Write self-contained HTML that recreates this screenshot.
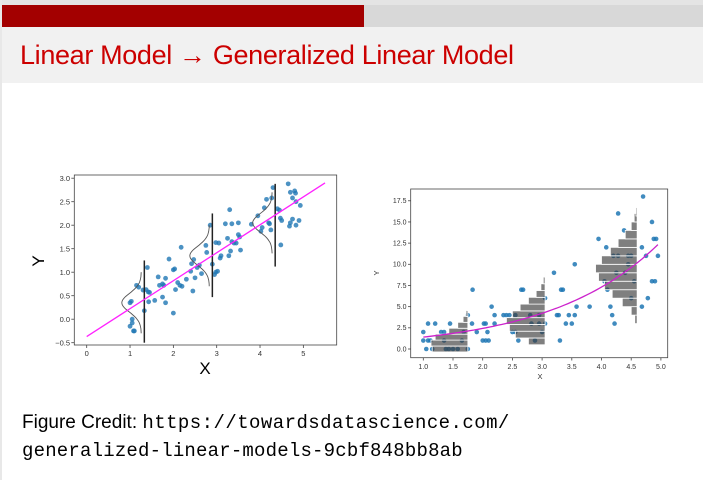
<!DOCTYPE html>
<html><head><meta charset="utf-8">
<style>
body{margin:0;width:703px;height:480px;overflow:hidden;background:#fff;font-family:"Liberation Sans",sans-serif;position:relative}
#topbar{position:absolute;left:0;top:0;width:703px;height:5px;background:#e4e4e4}
#redbar{position:absolute;left:2px;top:5px;width:362px;height:22px;background:#a30000}
#graybar{position:absolute;left:364px;top:5px;width:339px;height:22px;background:#d8d8d8}
#titleband{position:absolute;left:2px;top:27px;width:701px;height:56px;background:#f1f1f1}
#title{position:absolute;left:20px;top:40px;font-size:27px;color:#cc0000;white-space:nowrap;letter-spacing:-0.35px}
#leftedge{position:absolute;left:0;top:0;width:2px;height:480px;background:#e8e8e8}
#credit1{position:absolute;left:22px;top:412px;font-size:19px;white-space:nowrap;color:#000}
#credit1 .mono{letter-spacing:0.45px}
#credit2{position:absolute;left:22px;top:440px;font-size:19px;white-space:nowrap;color:#000;letter-spacing:0.2px}
.mono{font-family:"Liberation Mono",monospace}
svg{position:absolute;left:0;top:0}
</style></head><body>
<div id="topbar"></div>
<div id="leftedge"></div>
<div id="redbar"></div>
<div id="graybar"></div>
<div id="titleband"></div>
<div id="title">Linear Model → Generalized Linear Model</div>
<svg id="chart" width="703" height="480"></svg>
<div id="credit1">Figure Credit: <span class="mono">https://towardsdatascience.com/</span></div>
<div id="credit2" class="mono">generalized-linear-models-9cbf848bb8ab</div>
<script>
// Left chart data
const leftX=[1.0,1.1,1.08,1.05,1.05,1.0,1.03,1.15,1.2,1.3,1.37,1.4,1.42,1.45,1.43,1.33,1.57,1.65,1.68,1.75,1.78,1.75,1.82,1.82,1.9,2.0,2.03,2.0,2.05,2.1,2.15,2.2,2.18,2.3,2.4,2.42,2.45,2.47,2.5,2.55,2.6,2.65,2.75,2.77,2.85,2.9,2.95,2.98,3.02,2.98,3.05,3.08,3.1,3.2,3.25,3.28,3.3,3.32,3.35,3.35,3.4,3.45,3.5,3.5,3.53,3.55,3.8,3.95,4.02,4.05,4.1,4.15,4.2,4.22,4.25,4.27,4.3,4.4,4.45,4.47,4.5,4.48,4.65,4.7,4.68,4.7,4.75,4.75,4.8,4.82,4.83,4.83,4.9,4.93];
const leftY=[-0.15,-0.25,-0.25,0,-0.08,0.35,0.38,0.72,0.68,0.62,0.63,1.1,0.58,0.57,0.37,0.18,0.4,0.9,0.72,0.75,0.72,0.47,0.35,0.87,1.28,1.05,1.07,0.13,0.63,0.78,0.72,0.7,1.53,0.85,1.02,1.18,0.6,1.27,0.88,1.1,1.15,0.97,1.57,1.42,2.0,1.17,0.95,1.0,1.02,1.63,1.62,1.3,1.35,2.03,1.72,1.35,2.33,1.45,1.65,2.03,1.62,1.62,1.8,2.05,1.75,1.47,2.02,2.2,1.87,1.95,2.37,2.55,2.05,2.03,1.9,2.58,2.8,2.35,2.32,2.15,2.1,1.58,2.88,2.7,1.98,2.05,2.58,2.13,2.73,2.68,2.5,2.0,2.1,2.42];
const leftLine=[[0,-0.37],[5.5,2.9]];
const gaussX=[1.33,2.9,4.35];
const gaussCenter=[0.35,1.35,2.05];
const gaussTop=[1.25,2.25,2.88];
const gaussBottom=[-0.5,0.47,1.12];
const leftXTicks=[0,1,2,3,4,5];
const leftYTicks=[-0.5,0,0.5,1.0,1.5,2.0,2.5,3.0];
const leftYLabels=["−0.5","0.0","0.5","1.0","1.5","2.0","2.5","3.0"];
// Right chart data
const rightX=[1.0,1.0,1.05,1.08,1.08,1.12,1.15,1.2,1.3,1.35,1.35,1.38,1.43,1.45,1.5,1.58,1.65,1.68,1.75,1.75,1.83,1.82,1.9,2.0,2.02,2.05,2.05,2.08,2.1,2.15,2.2,2.2,2.35,2.4,2.45,2.5,2.55,2.6,2.65,2.68,2.55,2.8,2.82,2.88,2.95,2.95,3.0,3.05,3.05,3.2,3.25,3.28,3.3,3.32,3.35,3.4,3.45,3.5,3.55,3.55,3.58,3.8,3.95,4.05,4.08,4.1,4.15,4.18,4.2,4.22,4.25,4.28,4.28,4.38,4.4,4.45,4.5,4.55,4.5,4.68,4.68,4.7,4.75,4.78,4.85,4.85,4.88,4.9,4.92,4.95,4.45];
const rightY=[2,1,0,3,1,1,0,3,2,1,2,0,0,3,0,0,1,2,0,4,7,3,2,1,3,1,3,2,1,5,4,3,4,4,4,2,2,1,7,7,4,4,3,1,4,3,2,3,6,9,4,4,1,7,7,3,4,3,10,4,5,5,13,8,12,7,5,4,11,3,9,16,11,14,9,10,6,8,11,12,5,18,11,6,15,8,13,8,13,11,11];
const histEdge=[1.75,3.05,4.6];
const hist1Y=[0,0.7,1.4,2.1,2.8,3.5,4.2,4.9];
const hist1W=[0.6,0.62,0.55,0.32,0.17,0.08,0.03,0.01];
const hist2Y=[0.9,1.7,2.5,3.3,4.1,4.9,5.7,6.5,7.3,8.1,8.9];
const hist2W=[0.28,0.5,0.6,0.65,0.55,0.42,0.28,0.15,0.07,0.03,0.01];
const hist3Y=[2.5,3.5,4.5,5.5,6.5,7.5,8.5,9.5,10.5,11.5,12.5,13.5,14.5,15.5,16.2];
const hist3W=[0.01,0.04,0.1,0.25,0.42,0.55,0.65,0.7,0.6,0.45,0.32,0.2,0.1,0.05,0.02];
const rightCurveA=0.81, rightCurveB=0.55;
const rightXTicks=[1.0,1.5,2.0,2.5,3.0,3.5,4.0,4.5,5.0];
const rightYTicks=[0,2.5,5,7.5,10,12.5,15,17.5];

const svg=document.getElementById('chart');
const NS='http://www.w3.org/2000/svg';
function mk(tag,attrs,parent){const e=document.createElementNS(NS,tag);for(const k in attrs)e.setAttribute(k,attrs[k]);(parent||svg).appendChild(e);return e;}

// LEFT
const lx=v=>86.7+v*43.33, ly=v=>342.7-(v+0.5)*47;
const gL=mk('g',{});


const fL=mk('rect',{x:74.3,y:175,width:262.4,height:170,fill:'#fff',stroke:'#444','stroke-width':0.8},gL);


leftXTicks.forEach(t=>{
 mk('line',{x1:lx(t),x2:lx(t),y1:345,y2:348,stroke:'#444','stroke-width':0.8},gL);
 const tx=mk('text',{x:lx(t),y:356,'font-size':7.5,fill:'#333','text-anchor':'middle'},gL);tx.textContent=t;
 
 
});
leftYTicks.forEach((t,i)=>{
 mk('line',{x1:71.3,x2:74.3,y1:ly(t),y2:ly(t),stroke:'#444','stroke-width':0.8},gL);
 const tx=mk('text',{x:70,y:ly(t)+2.6,'font-size':7.5,fill:'#333','text-anchor':'end'},gL);tx.textContent=leftYLabels[i];
 
 
});
const xl=mk('text',{x:205,y:374,'font-size':17,fill:'#000','text-anchor':'middle'},gL);xl.textContent='X';


const yl=mk('text',{x:0,y:0,'font-size':17,fill:'#000','text-anchor':'middle',transform:'translate(44,261) rotate(-90)'},gL);yl.textContent='Y';


leftX.forEach((x,i)=>{const c=mk('circle',{cx:lx(x),cy:ly(leftY[i]),r:2.4,fill:'#1f77b4','fill-opacity':0.8},gL);
 
 });
gaussX.forEach((gx,i)=>{
 const v=mk('line',{x1:lx(gx),x2:lx(gx),y1:ly(gaussBottom[i]),y2:ly(gaussTop[i]),stroke:'#222','stroke-width':1.5},gL);
 
 
 let d='';const base=gx-0.07;
 for(let k=0;k<=40;k++){const y=gaussCenter[i]-0.65+k*1.3/40;const x=base-0.45*Math.exp(-Math.pow(y-gaussCenter[i],2)/(2*0.2*0.2));d+=(k?'L':'M')+lx(x).toFixed(1)+','+ly(y).toFixed(1);}
 const p=mk('path',{d:d,fill:'none',stroke:'#555','stroke-width':0.9},gL);
 
 
});
const ll=mk('line',{x1:lx(leftLine[0][0]),y1:ly(leftLine[0][1]),x2:lx(leftLine[1][0]),y2:ly(leftLine[1][1]),stroke:'#ff22ff','stroke-width':1.3},gL);



// RIGHT
const rx=v=>423.3+(v-1)*59.4, ry=v=>349-v*8.47;
const gR=mk('g',{});


const fR=mk('rect',{x:410.7,y:189,width:257,height:168.7,fill:'#fff',stroke:'#444','stroke-width':0.8},gR);


rightXTicks.forEach(t=>{
 mk('line',{x1:rx(t),x2:rx(t),y1:357.7,y2:360.5,stroke:'#444','stroke-width':0.8},gR);
 const tx=mk('text',{x:rx(t),y:369,'font-size':7,fill:'#333','text-anchor':'middle'},gR);tx.textContent=t.toFixed(1);
 
 
});
rightYTicks.forEach(t=>{
 mk('line',{x1:408,x2:410.7,y1:ry(t),y2:ry(t),stroke:'#444','stroke-width':0.8},gR);
 const tx=mk('text',{x:406.5,y:ry(t)+2.4,'font-size':7,fill:'#333','text-anchor':'end'},gR);tx.textContent=t.toFixed(1);
 
 
});
const rxl=mk('text',{x:540,y:379,'font-size':7.5,fill:'#333','text-anchor':'middle'},gR);rxl.textContent='X';


const ryl=mk('text',{x:0,y:0,'font-size':7.5,fill:'#333','text-anchor':'middle',transform:'translate(379,273) rotate(-90)'},gR);ryl.textContent='Y';


rightX.forEach((x,i)=>{const c=mk('circle',{cx:rx(x),cy:ry(rightY[i]),r:2.3,fill:'#1f77b4','fill-opacity':0.85},gR);
 
 });
[[hist1Y,hist1W,0.7],[hist2Y,hist2W,0.8],[hist3Y,hist3W,1.0]].forEach((h,gi)=>{
 const [ys,ws,bh]=h;
 ys.forEach((y,i)=>{
  const x1=rx(histEdge[gi]-ws[i]), x2=rx(histEdge[gi]);
  const r=mk('rect',{x:x1,y:ry(y+bh/2),width:x2-x1,height:bh*8.47,fill:'#3a3a3a','fill-opacity':0.65,stroke:'#fff','stroke-width':0.8},gR);
  
  
 });
});
let cd='';for(let k=0;k<=60;k++){const x=1+k*3.95/60;cd+=(k?'L':'M')+rx(x).toFixed(1)+','+ry(rightCurveA*Math.exp(rightCurveB*x)).toFixed(1);}
const cp=mk('path',{d:cd,fill:'none',stroke:'#cc22cc','stroke-width':1.3},gR);


</script>
</body></html>
